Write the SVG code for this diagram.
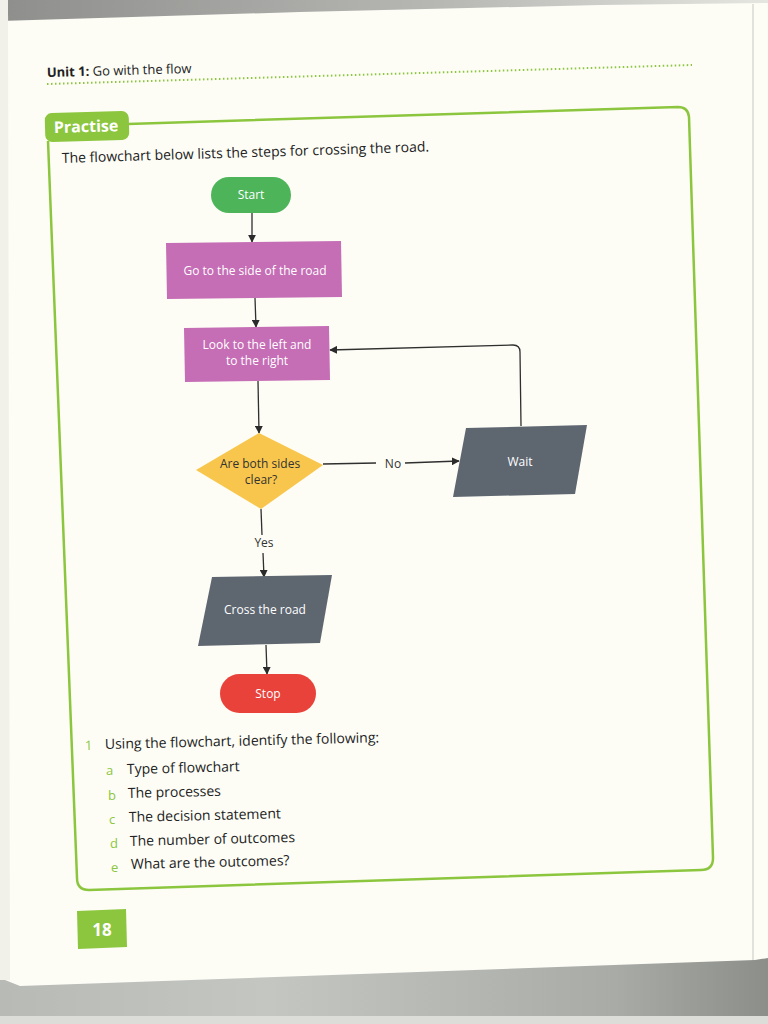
<svg xmlns="http://www.w3.org/2000/svg" width="768" height="1024" viewBox="0 0 768 1024">
<defs>
<linearGradient id="topShade" x1="0" y1="0" x2="1" y2="0">
<stop offset="0" stop-color="#8e8f8c"/>
<stop offset="0.6" stop-color="#b9bab6"/>
<stop offset="1" stop-color="#e6e6e0"/>
</linearGradient>
<linearGradient id="botShade" x1="0" y1="0" x2="1" y2="0">
<stop offset="0" stop-color="#b8bab6"/>
<stop offset="0.35" stop-color="#c4c6c2"/>
<stop offset="0.8" stop-color="#a9aba7"/>
<stop offset="1" stop-color="#8c8e8a"/>
</linearGradient>
<marker id="arr" viewBox="0 0 10 10" refX="9" refY="5" markerWidth="8" markerHeight="8" markerUnits="userSpaceOnUse" orient="auto">
<path d="M0,0 L10,5 L0,10 z" fill="#2b2b2b"/>
</marker>
<style>
.t{font-family:"Open Sans","Noto Sans","Liberation Sans",sans-serif;}
.body{font-size:14px;fill:#222;}
.lbl{font-size:12px;fill:#ffffff;text-anchor:middle;}
.dark{font-size:12px;fill:#333;text-anchor:middle;}
.num{font-size:13px;fill:#8cc63e;}
.conn{stroke:#2f2f2f;stroke-width:1.3;fill:none;}
.green{stroke:#8cc63e;stroke-width:2.5;fill:none;}
</style>
</defs>
<rect x="0" y="0" width="768" height="1024" fill="#fdfdf6"/>
<!-- scan edges -->
<polygon points="0,0 768,0 768,3 600,5 300,12 0,21" fill="url(#topShade)"/>
<line x1="753" y1="4" x2="753" y2="962" stroke="#d6d8d2" stroke-width="1.5"/>
<polygon points="0,978 20,986 755,960 768,958 768,1024 0,1024" fill="url(#botShade)"/>
<rect x="0" y="1016" width="768" height="8" fill="#dcdcd8"/>
<polygon points="0,0 8,0 10,980 0,980" fill="#f1f1ea"/>

<!-- header -->
<g id="header">
<text class="t" x="47" y="77" font-size="13" fill="#222" transform="rotate(-1.6 47 77)"><tspan font-weight="bold">Unit 1:</tspan> Go with the flow</text>
<line x1="47" y1="84" x2="692" y2="65" stroke="#8cc63e" stroke-width="2" stroke-dasharray="1.5 2.5"/>
</g>

<!-- practise box -->
<g id="practise-box">
<path class="green" d="M128,124 L678,107 Q688,107 689,117 L713,858 Q713,870 701,870 L89,890 Q77,890 77,878 L48,141"/>
<rect x="45" y="112" width="84" height="29" rx="7" fill="#8cc63e" transform="rotate(-1.6 87 126)"/>
<text class="t" x="54" y="133" font-size="16" font-weight="bold" fill="#fff" transform="rotate(-1.6 54 133)">Practise</text>
<text class="t body" x="62" y="163" transform="rotate(-1.8 62 163)">The flowchart below lists the steps for crossing the road.</text>
</g>

<!-- connectors -->
<g id="connectors">
<line class="conn" x1="252" y1="213" x2="252" y2="242" marker-end="url(#arr)"/>
<line class="conn" x1="255" y1="298" x2="256" y2="327" marker-end="url(#arr)"/>
<line class="conn" x1="258" y1="381" x2="259" y2="433" marker-end="url(#arr)"/>
<line class="conn" x1="323" y1="464" x2="376" y2="463"/>
<text class="t dark" x="393" y="468">No</text>
<line class="conn" x1="405" y1="463" x2="459" y2="461" marker-end="url(#arr)"/>
<path class="conn" d="M521,426 L520,352 Q520,345 513,345 L330,350" marker-end="url(#arr)"/>
<line class="conn" x1="261" y1="509" x2="262" y2="535"/>
<text class="t dark" x="264" y="547">Yes</text>
<line class="conn" x1="263" y1="553" x2="264" y2="577" marker-end="url(#arr)"/>
<line class="conn" x1="266" y1="645" x2="267" y2="674" marker-end="url(#arr)"/>
</g>

<!-- nodes -->
<g id="start">
<rect x="211" y="177" width="80" height="36" rx="18" fill="#4db45a"/>
<text class="t lbl" x="251" y="199">Start</text>
</g>
<g id="go-side">
<polygon points="166,243 341,241 342,297 167,299" fill="#c56db5"/>
<text class="t lbl" x="255" y="275">Go to the side of the road</text>
</g>
<g id="look">
<polygon points="184,328 329,326 330,380 185,382" fill="#c56db5"/>
<text class="t lbl" x="257" y="349">Look to the left and</text>
<text class="t lbl" x="257" y="365">to the right</text>
</g>
<g id="decision">
<polygon points="259,433 323,465 261,509 196,470" fill="#f8c64c"/>
<text class="t dark" x="260" y="468">Are both sides</text>
<text class="t dark" x="261" y="484">clear?</text>
</g>
<g id="wait">
<polygon points="466,428 587,425 575,494 453,497" fill="#5e6670"/>
<text class="t lbl" x="520" y="466">Wait</text>
</g>
<g id="cross">
<polygon points="212,577 332,575 320,643 198,646" fill="#5e6670"/>
<text class="t lbl" x="265" y="614">Cross the road</text>
</g>
<g id="stop">
<rect x="220" y="674" width="96" height="39" rx="19.5" fill="#e8423a"/>
<text class="t lbl" x="268" y="698">Stop</text>
</g>

<!-- questions -->
<g id="questions">
<text class="t num" x="85" y="750" transform="rotate(-1.4 85 750)">1</text>
<text class="t body" x="105" y="749" transform="rotate(-1.4 105 749)">Using the flowchart, identify the following:</text>
<text class="t num" x="106" y="775">a</text>
<text class="t body" x="127" y="774" transform="rotate(-1.4 127 774)">Type of flowchart</text>
<text class="t num" x="108" y="800">b</text>
<text class="t body" x="128" y="798" transform="rotate(-1.4 128 798)">The processes</text>
<text class="t num" x="109" y="824">c</text>
<text class="t body" x="129" y="822" transform="rotate(-1.4 129 822)">The decision statement</text>
<text class="t num" x="110" y="848">d</text>
<text class="t body" x="130" y="846" transform="rotate(-1.4 130 846)">The number of outcomes</text>
<text class="t num" x="111" y="872">e</text>
<text class="t body" x="131" y="869" transform="rotate(-1.4 131 869)">What are the outcomes?</text>
</g>

<!-- page number -->
<g id="page-number">
<polygon points="77,911 126,909 127,947 78,949" fill="#8cc63e"/>
<text class="t" x="102" y="936" font-size="17" font-weight="bold" fill="#fff" text-anchor="middle">18</text>
</g>
</svg>
